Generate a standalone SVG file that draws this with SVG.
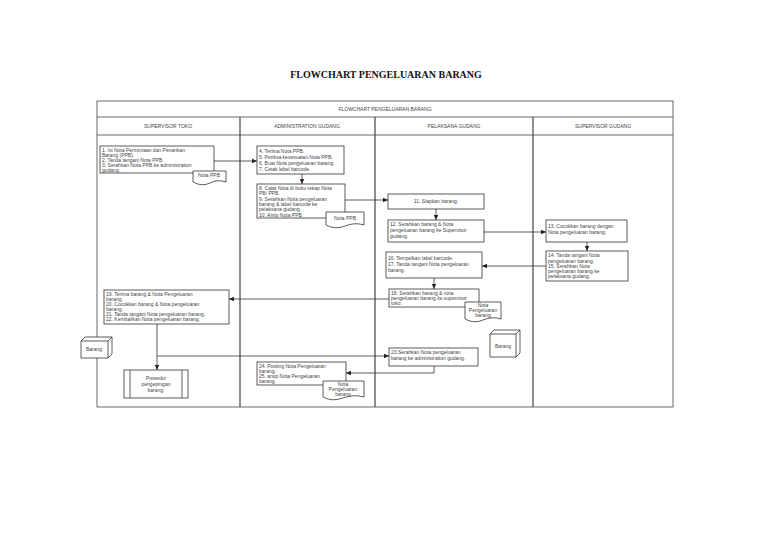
<svg xmlns="http://www.w3.org/2000/svg" width="768" height="543" viewBox="0 0 768 543">
<style>
.b{fill:#fff;stroke:#333;stroke-width:0.8}
.l{fill:none;stroke:#444;stroke-width:0.8}
.c{stroke:#333;stroke-width:0.8;fill:none}
text{font-family:"Liberation Sans",Arial,sans-serif;font-size:5px;fill:#444}
.m{text-anchor:middle}
</style>
<defs><marker id="a" markerWidth="6" markerHeight="6" refX="5" refY="3" orient="auto" markerUnits="userSpaceOnUse"><path d="M0,0.8L5,3L0,5.2z" fill="#222"/></marker></defs>
<rect width="768" height="543" fill="#fff"/>
<text x="386" y="78" class="m" style="font-family:'Liberation Serif',serif;font-size:10px;font-weight:bold;fill:#111">FLOWCHART PENGELUARAN BARANG</text>
<g id="frame">
<rect x="97" y="101" width="576" height="306" class="l" stroke="#666"/>
<line x1="97" y1="117" x2="673" y2="117" class="l"/>
<line x1="97" y1="135" x2="673" y2="135" class="l"/>
<line x1="240" y1="117" x2="240" y2="407" class="l" style="stroke-width:1.2"/>
<line x1="375" y1="117" x2="375" y2="407" class="l" style="stroke-width:1.2"/>
<line x1="533" y1="117" x2="533" y2="407" class="l" style="stroke-width:1.2"/>
<text x="385" y="111" class="m">FLOWCHART PENGELUARAN BARANG</text>
<text x="168" y="128" class="m">SUPERVISOR TOKO</text>
<text x="307" y="128" class="m">ADMINISTRATION GUDANG</text>
<text x="454" y="128" class="m">PELAKSANA GUDANG</text>
<text x="603" y="128" class="m">SUPERVISOR GUDANG</text>
</g>
<g id="connectors" class="c">
<line x1="214" y1="161" x2="257" y2="161" marker-end="url(#a)"/>
<line x1="302" y1="174" x2="302" y2="184" marker-end="url(#a)"/>
<line x1="345" y1="200" x2="388" y2="200" marker-end="url(#a)"/>
<line x1="436" y1="209" x2="436" y2="220" marker-end="url(#a)"/>
<line x1="484" y1="232" x2="546" y2="232" marker-end="url(#a)"/>
<line x1="587" y1="242" x2="587" y2="251" marker-end="url(#a)"/>
<line x1="546" y1="266" x2="482" y2="266" marker-end="url(#a)"/>
<line x1="434" y1="278" x2="434" y2="289" marker-end="url(#a)"/>
<line x1="389" y1="299" x2="229" y2="299" marker-end="url(#a)"/>
<line x1="157" y1="324" x2="157" y2="370" marker-end="url(#a)"/>
<line x1="157" y1="356" x2="389" y2="356" marker-end="url(#a)"/>
<polyline points="434,366 434,373 346,373" marker-end="url(#a)"/>
</g>
<g id="n1"><rect x="100" y="146" width="114" height="27" class="b"/>
<text x="102" y="151.5">1. Isi Nota Permintaan dan Penarikan</text><text x="102" y="156.5">Barang (PPB).</text><text x="102" y="161.5">2. Tanda tangani Nota PPB.</text><text x="102" y="166.5">3. Serahkan Nota PPB ke administration</text><text x="102" y="171.5">gudang.</text></g>
<g id="d1"><path d="M193,171H226V182Q218,179 210,183T193,182Z" class="b"/><text x="209" y="177" class="m">Nota PPB</text></g>
<g id="n4"><rect x="257" y="146" width="87" height="28" class="b"/>
<text x="259" y="153">4. Terima Nota PPB.</text><text x="259" y="159">5. Periksa kesesuaian Nota PPB.</text><text x="259" y="165">6. Buat Nota pengeluaran barang.</text><text x="259" y="171">7. Cetak label barcode.</text></g>
<g id="n8"><rect x="257" y="184" width="88" height="34" class="b"/>
<text x="259" y="190">8. Catat Nota di buku rekap Nota</text><text x="259" y="195.3">PB/ PPB.</text><text x="259" y="200.6">9. Serahkan Nota pengeluaran</text><text x="259" y="205.9">barang &amp; label barcode ke</text><text x="259" y="211.2">pelaksana gudang.</text><text x="259" y="216.5">10. Arsip Nota PPB.</text></g>
<g id="d2"><path d="M326,212H364V225Q355,222 345,226T326,225Z" class="b"/><text x="345" y="220" class="m">Nota PPB</text></g>
<g id="n11"><rect x="388" y="194" width="96" height="15" class="b"/><text x="436" y="203" class="m">11. Siapkan barang.</text></g>
<g id="n12"><rect x="388" y="220" width="96" height="22" class="b"/>
<text x="390" y="226">12. Serahkan barang &amp; Nota</text><text x="390" y="232">pengeluaran barang ke Supervisor</text><text x="390" y="238">gudang.</text></g>
<g id="n13"><rect x="546" y="220" width="81" height="22" class="b"/>
<text x="548" y="228">13. Cocokkan barang dengan</text><text x="548" y="234">Nota pengeluaran barang.</text></g>
<g id="n14"><rect x="546" y="251" width="82" height="30" class="b"/>
<text x="548" y="257">14. Tanda tangani Nota</text><text x="548" y="263">pengeluaran barang.</text><text x="548" y="268">15. Serahkan Nota</text><text x="548" y="273">pengeluaran barang ke</text><text x="548" y="278">pelaksana gudang.</text></g>
<g id="n16"><rect x="386" y="252" width="96" height="26" class="b"/>
<text x="388" y="260">16. Tempelkan label barcode.</text><text x="388" y="266">17. Tanda tangani Nota pengeluaran</text><text x="388" y="272">barang.</text></g>
<g id="n18"><rect x="389" y="289" width="90" height="18" class="b"/>
<text x="391" y="295">18. Serahkan barang &amp; nota</text><text x="391" y="300">pengeluaran barang ke supervisor</text><text x="391" y="305">toko.</text></g>
<g id="d3"><path d="M465,302H501V319Q492,316 483,320T465,319Z" class="b"/><text x="483" y="307" class="m">Nota</text><text x="483" y="312" class="m">Pengeluaran</text><text x="483" y="317" class="m">barang</text></g>
<g id="n19"><rect x="104" y="290" width="125" height="34" class="b"/>
<text x="106" y="296">19. Terima barang &amp; Nota Pengeluaran</text><text x="106" y="301">barang.</text><text x="106" y="306">20. Cocokkan barang &amp; Nota pengeluaran</text><text x="106" y="311">barang.</text><text x="106" y="316">21. Tanda tangani Nota pengeluaran barang.</text><text x="106" y="321">22. Kembalikan Nota pengeluaran barang.</text></g>
<g id="cube1"><path d="M81,341H108V358H81ZM81,341L85,337H112L108,341M112,337V354L108,358" class="b"/><text x="94" y="351" class="m">Barang</text></g>
<g id="cube2"><path d="M490,334H516V357H490ZM490,334L494,330H520L516,334M520,330V353L516,357" class="b"/><text x="503" y="348" class="m">Barang</text></g>
<g id="n23"><rect x="389" y="348" width="89" height="18" class="b"/>
<text x="391" y="354">23.Serahkan Nota pengeluaran</text><text x="391" y="360">barang ke administration gudang.</text></g>
<g id="n24"><rect x="257" y="362" width="89" height="23" class="b"/>
<text x="259" y="368">24. Posting Nota Pengeluaran</text><text x="259" y="373">barang.</text><text x="259" y="378">25. arsip Nota Pengeluaran</text><text x="259" y="383">barang.</text></g>
<g id="d4"><path d="M323,381H364V397Q354,394 343,398T323,397Z" class="b"/><text x="343" y="386" class="m">Nota</text><text x="343" y="391" class="m">Pengeluaran</text><text x="343" y="396" class="m">barang</text></g>
<g id="proc"><rect x="124" y="370" width="64" height="28" class="b"/><line x1="130" y1="370" x2="130" y2="398" class="c"/><line x1="182" y1="370" x2="182" y2="398" class="c"/>
<text x="156" y="380" class="m">Prosedur</text><text x="156" y="386" class="m">pengepingan</text><text x="156" y="392" class="m">barang.</text></g>
</svg>
